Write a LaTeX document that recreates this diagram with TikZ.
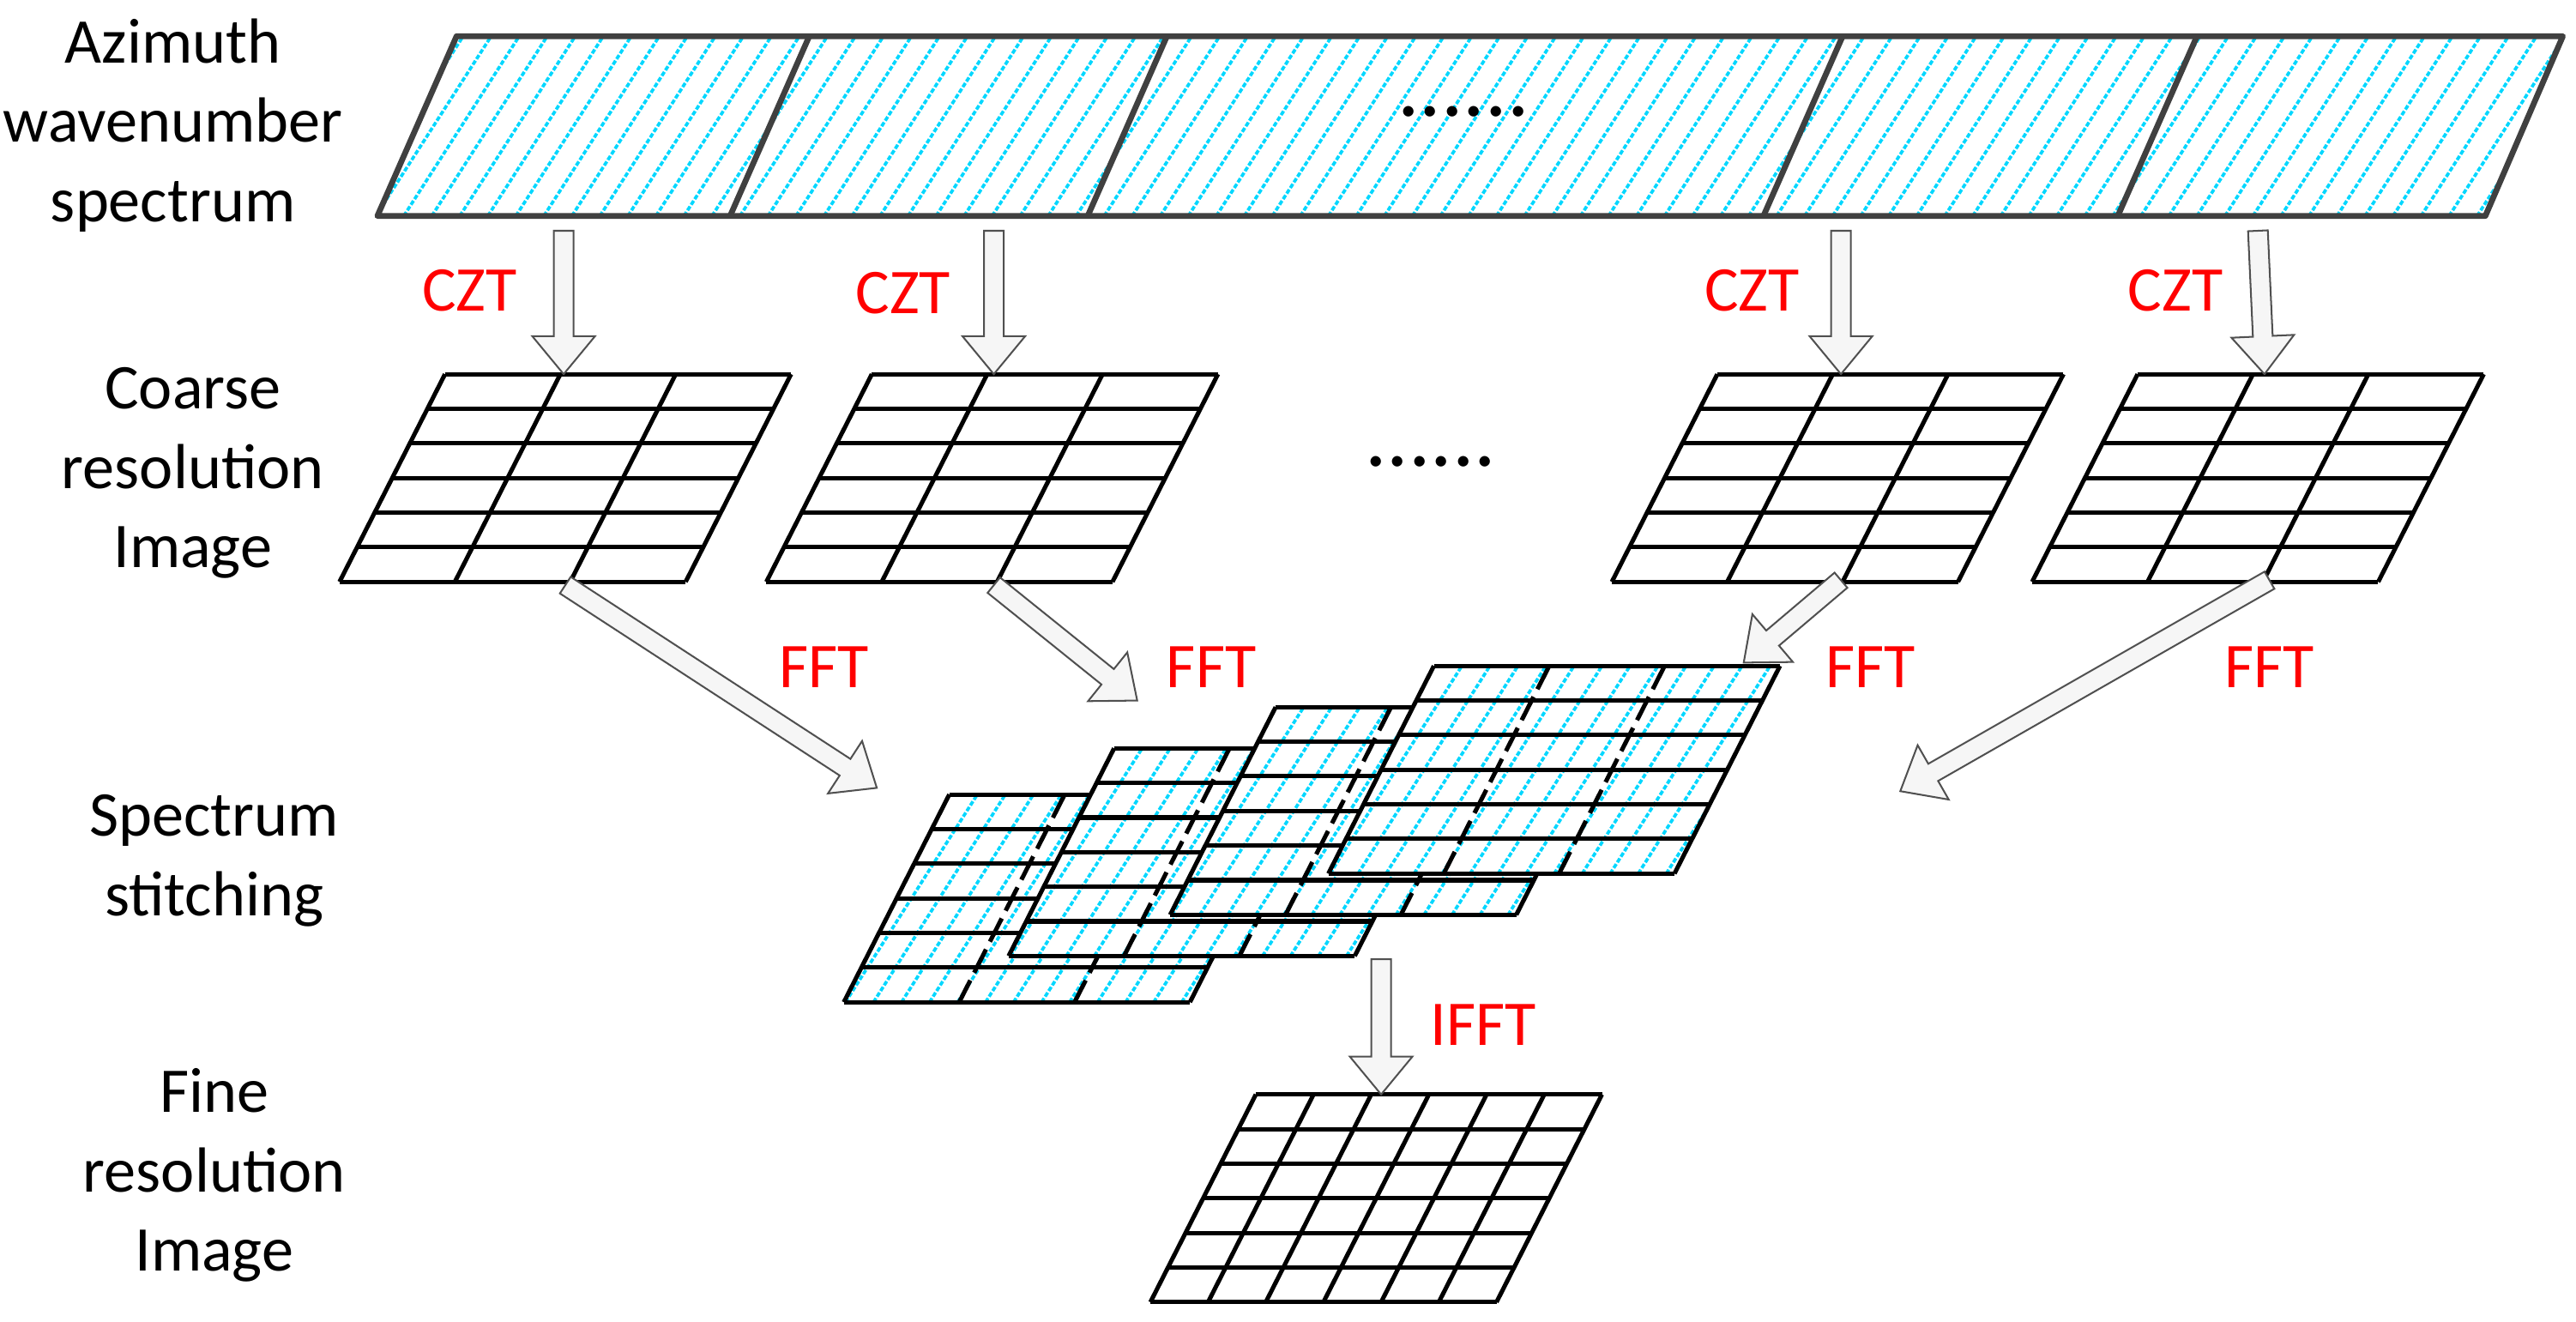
\documentclass[tikz,border=0pt]{standalone}
\usepackage{fontspec}
\setmainfont{Carlito}
\usetikzlibrary{calc}

\definecolor{hatchcyan}{RGB}{0,215,255}
\definecolor{stripgray}{RGB}{64,64,64}
\definecolor{arrowfill}{RGB}{246,246,246}
\definecolor{arrowline}{RGB}{80,80,80}

\tikzset{
  label text/.style={align=center, font=\fontsize{22}{27.5}\selectfont},
  step text/.style={text=red, font=\fontsize{22}{26}\selectfont},
  grid line/.style={line width=1.5pt, black},
  broken line/.style={grid line, dash pattern=on 9pt off 3pt},
  hatch line/.style={hatchcyan, line width=1.1pt, dash pattern=on 1.6pt off 0.7pt},
  fat arrow/.style={fill=arrowfill, draw=arrowline, line width=0.6pt}
}

% block arrow between two named points
\newcommand{\fatarrow}[2]{%
  \draw[fat arrow] ($(#1)!0.12cm!90:(#2)$) -- ($($(#2)!0.46cm!(#1)$)!0.12cm!90:(#2)$)
    -- ($($(#2)!0.46cm!(#1)$)!0.38cm!90:(#2)$) -- (#2)
    -- ($($(#2)!0.46cm!(#1)$)!0.38cm!-90:(#2)$)
    -- ($($(#2)!0.46cm!(#1)$)!0.12cm!-90:(#2)$)
    -- ($(#1)!0.12cm!-90:(#2)$) -- cycle;}

% white cell background, optionally hatched
\newcommand{\cellback}[2]{%
  \fill[white] (#1,#2) -- ++(210,0) -- ++(-64,126) -- ++(-210,0) -- cycle;}
\newcommand{\cellhatch}[2]{%
  \begin{scope}
    \clip (#1,#2) -- ++(210,0) -- ++(-64,126) -- ++(-210,0) -- cycle;
    \foreach \k in {0,...,18} \draw[hatch line] ({#1-80+\k*17},{#2+126}) -- ++(80,-126);
  \end{scope}}
% grid: top-left x, y, cols, rows, style of inner columns
\newcommand{\cellgrid}[5]{%
  \pgfmathtruncatemacro{\lastcol}{#3-1}%
  \foreach \i in {0,...,#4} \draw[grid line] ({#1-64*\i/#4},{#2+126*\i/#4}) -- ++(210,0);
  \draw[grid line] (#1,#2) -- ++(-64,126);
  \draw[grid line] ({#1+210},#2) -- ++(-64,126);
  \foreach \j in {1,...,\lastcol} \draw[#5] ({#1+210*\j/#3},#2) -- ++(-64,126);}

\begin{document}
\begin{tikzpicture}[x=0.02cm, y=-0.02cm]
\useasboundingbox (0,0) rectangle (1563,802);

% row labels
\node[label text] (azlab) at (105,76) {Azimuth\\wavenumber\\spectrum};
\node[label text] (coarselab) at (117,287) {Coarse\\resolution\\Image};
\node[label text] (stitchlab) at (130,522) {Spectrum\\stitching};
\node[label text] (finelab) at (130,713) {Fine\\resolution\\Image};

% spectrum strip
\begin{scope}
  \clip (277,22) -- (1555,22) -- (1508,131) -- (229,131) -- cycle;
  \foreach \k in {0,...,82} \draw[hatch line] ({160+\k*17},131) -- ++(70,-109);
\end{scope}
\draw[stripgray, line width=2pt, line join=round] (277,22) -- (1555,22) -- (1508,131) -- (229,131) -- cycle;
\foreach \xb in {443,660,1070,1285} \draw[stripgray, line width=2pt] (\xb,131) -- ++(48,-109);
\node[font=\fontsize{30}{30}\selectfont] (topdots) at (888,68) {......};

% coarse images
\cellgrid{270}{227}{3}{6}{grid line}
\cellgrid{529}{227}{3}{6}{grid line}
\cellgrid{1042}{227}{3}{6}{grid line}
\cellgrid{1297}{227}{3}{6}{grid line}
\node[font=\fontsize{30}{30}\selectfont] (middots) at (868,280) {......};

% CZT arrows
\coordinate (c1a) at (342,140); \coordinate (c1b) at (342,227);
\coordinate (c2a) at (603,140); \coordinate (c2b) at (603,227);
\coordinate (c3a) at (1117,140); \coordinate (c3b) at (1117,227);
\coordinate (c4a) at (1370,140); \coordinate (c4b) at (1374,227);
\fatarrow{c1a}{c1b} \fatarrow{c2a}{c2b} \fatarrow{c3a}{c3b} \fatarrow{c4a}{c4b}
\node[step text] (czt1) at (285,176) {CZT};
\node[step text] (czt2) at (548,178) {CZT};
\node[step text] (czt3) at (1063,176) {CZT};
\node[step text] (czt4) at (1320,176) {CZT};

% spectrum stitching
\foreach \gx/\gy in {576/482, 676/454, 774/429, 870/404} {
  \cellback{\gx}{\gy}
  \cellhatch{\gx}{\gy}
  \cellgrid{\gx}{\gy}{3}{6}{broken line}
}

% FFT arrows
\coordinate (f1a) at (343,355); \coordinate (f1b) at (532,478);
\coordinate (f2a) at (603,355); \coordinate (f2b) at (690,425);
\coordinate (f3a) at (1117,352); \coordinate (f3b) at (1058,402);
\coordinate (f4a) at (1377,352); \coordinate (f4b) at (1153,480);
\fatarrow{f1a}{f1b} \fatarrow{f2a}{f2b} \fatarrow{f3a}{f3b} \fatarrow{f4a}{f4b}
\node[step text] (fft1) at (500,405) {FFT};
\node[step text] (fft2) at (735,405) {FFT};
\node[step text] (fft3) at (1135,405) {FFT};
\node[step text] (fft4) at (1377,405) {FFT};

% fine image
\cellgrid{762}{664}{6}{6}{grid line}
\coordinate (ia) at (838,582); \coordinate (ib) at (838,664);
\fatarrow{ia}{ib}
\node[step text] (ifft) at (900,622) {IFFT};
\end{tikzpicture}
\end{document}
